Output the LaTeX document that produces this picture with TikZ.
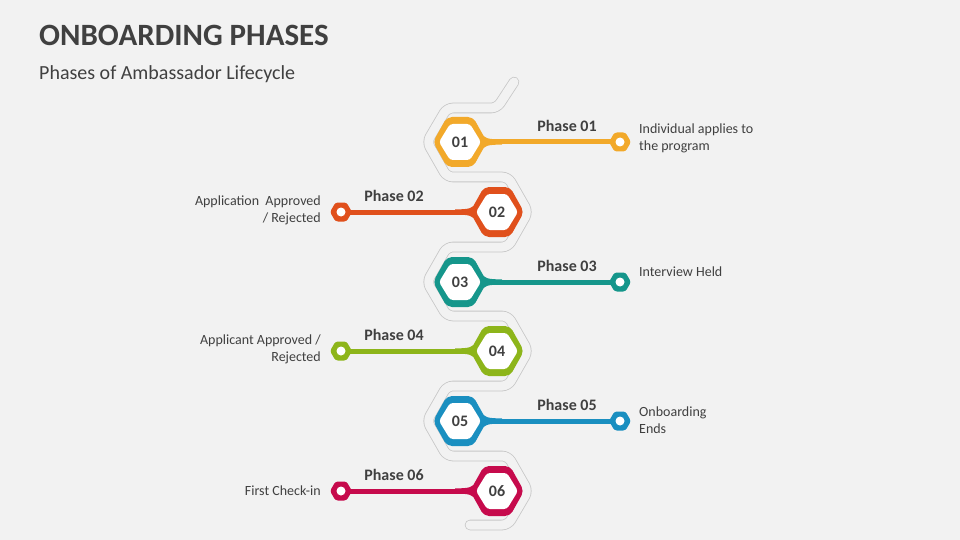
\documentclass[tikz,border=0pt]{standalone}
\usepackage{fontspec}
\setmainfont{Carlito}
\usetikzlibrary{calc}
\begin{document}
\begin{tikzpicture}[x=1pt,y=-1pt,
  txt/.style={text=black!75, font=\fontsize{14}{17}\selectfont, inner sep=0pt},
  phase/.style={text=black!75, font=\bfseries\fontsize{16}{18}\selectfont, inner sep=0pt},
  snake/.style={draw=black!22, line width=0.8pt, double=bgc, double distance=9pt, rounded corners=6pt, line cap=round}]
\definecolor{bgc}{HTML}{F2F2F2}
\definecolor{c1}{HTML}{F2A92A}
\definecolor{c2}{HTML}{E0501C}
\definecolor{c3}{HTML}{15968B}
\definecolor{c4}{HTML}{8DB51A}
\definecolor{c5}{HTML}{1A8FC0}
\definecolor{c6}{HTML}{C60A4C}
\fill[bgc] (0,0) rectangle (960,540);
\useasboundingbox (0,0) rectangle (960,540);
\node[anchor=west, text=black!75, font=\bfseries\fontsize{31}{34}\selectfont, inner sep=0pt] (title) at (39,35) {ONBOARDING PHASES};
\node[anchor=west, text=black!75, font=\fontsize{20}{24}\selectfont, inner sep=0pt] (sub) at (39,74) {Phases of Ambassador Lifecycle};
% snake
\draw[snake] (514,82) -- (497,108) -- (447,108) -- (427,142) -- (447,177) -- (508,177) -- (528,212) -- (508,247) -- (447,247) -- (427,282) -- (447,316) -- (508,316) -- (528,351) -- (508,386) -- (447,386) -- (427,421) -- (447,456) -- (508,456) -- (528,491) -- (508,525) -- (470,525);
% phases
\foreach \i/\cx/\cy/\sx/\px/\col in {1/460/142/620/567/c1, 2/497/212/341/394/c2, 3/460/282/620/567/c3, 4/497/351/341/394/c4, 5/460/421/620/567/c5, 6/497/491/341/394/c6}{
  \coordinate (h\i) at (\cx,\cy);
  \coordinate (s\i) at (\sx,\cy);
  \pgfmathsetmacro{\dir}{(\sx>\cx)?1:-1}
  \draw[\col, line width=5pt] (h\i) -- (s\i);
  \fill[\col] ($(h\i)+(\dir*18,-11)$) .. controls ($(h\i)+(\dir*26,-3)$) .. ($(h\i)+(\dir*42,-2.5)$) -- ($(h\i)+(\dir*42,2.5)$) .. controls ($(h\i)+(\dir*26,3)$) .. ($(h\i)+(\dir*18,11)$) -- cycle;
  \fill[\col, rounded corners=5pt] ($(h\i)+(-27,0)$) -- ($(h\i)+(-13,-25)$) -- ($(h\i)+(13,-25)$) -- ($(h\i)+(27,0)$) -- ($(h\i)+(13,25)$) -- ($(h\i)+(-13,25)$) -- cycle;
  \fill[white, rounded corners=3pt] ($(h\i)+(-21,0)$) -- ($(h\i)+(-10,-18)$) -- ($(h\i)+(10,-18)$) -- ($(h\i)+(21,0)$) -- ($(h\i)+(10,18)$) -- ($(h\i)+(-10,18)$) -- cycle;
  \fill[\col, rounded corners=2.5pt] ($(s\i)+(-11,0)$) -- ($(s\i)+(-5.5,-9.5)$) -- ($(s\i)+(5.5,-9.5)$) -- ($(s\i)+(11,0)$) -- ($(s\i)+(5.5,9.5)$) -- ($(s\i)+(-5.5,9.5)$) -- cycle;
  \fill[white] (s\i) circle (4.5pt);
  \node[text=black!75, font=\bfseries\fontsize{16}{18}\selectfont] (n\i) at (h\i) {0\i};
  \node[phase] (p\i) at (\px,\cy-16) {Phase 0\i};
}
\node[txt, anchor=west, align=left] (d1) at (639,138) {Individual applies to\\the program};
\node[txt, anchor=west] (d3) at (639,272) {Interview Held};
\node[txt, anchor=west, align=left] (d5) at (639,420) {Onboarding\\Ends};
\node[txt, anchor=east, align=right] (d2) at (321,210) {Application\ \ Approved\\/ Rejected};
\node[txt, anchor=east, align=right] (d4) at (321,349) {Applicant Approved /\\Rejected};
\node[txt, anchor=east] (d6) at (321,491) {First Check-in};
\end{tikzpicture}
\end{document}
